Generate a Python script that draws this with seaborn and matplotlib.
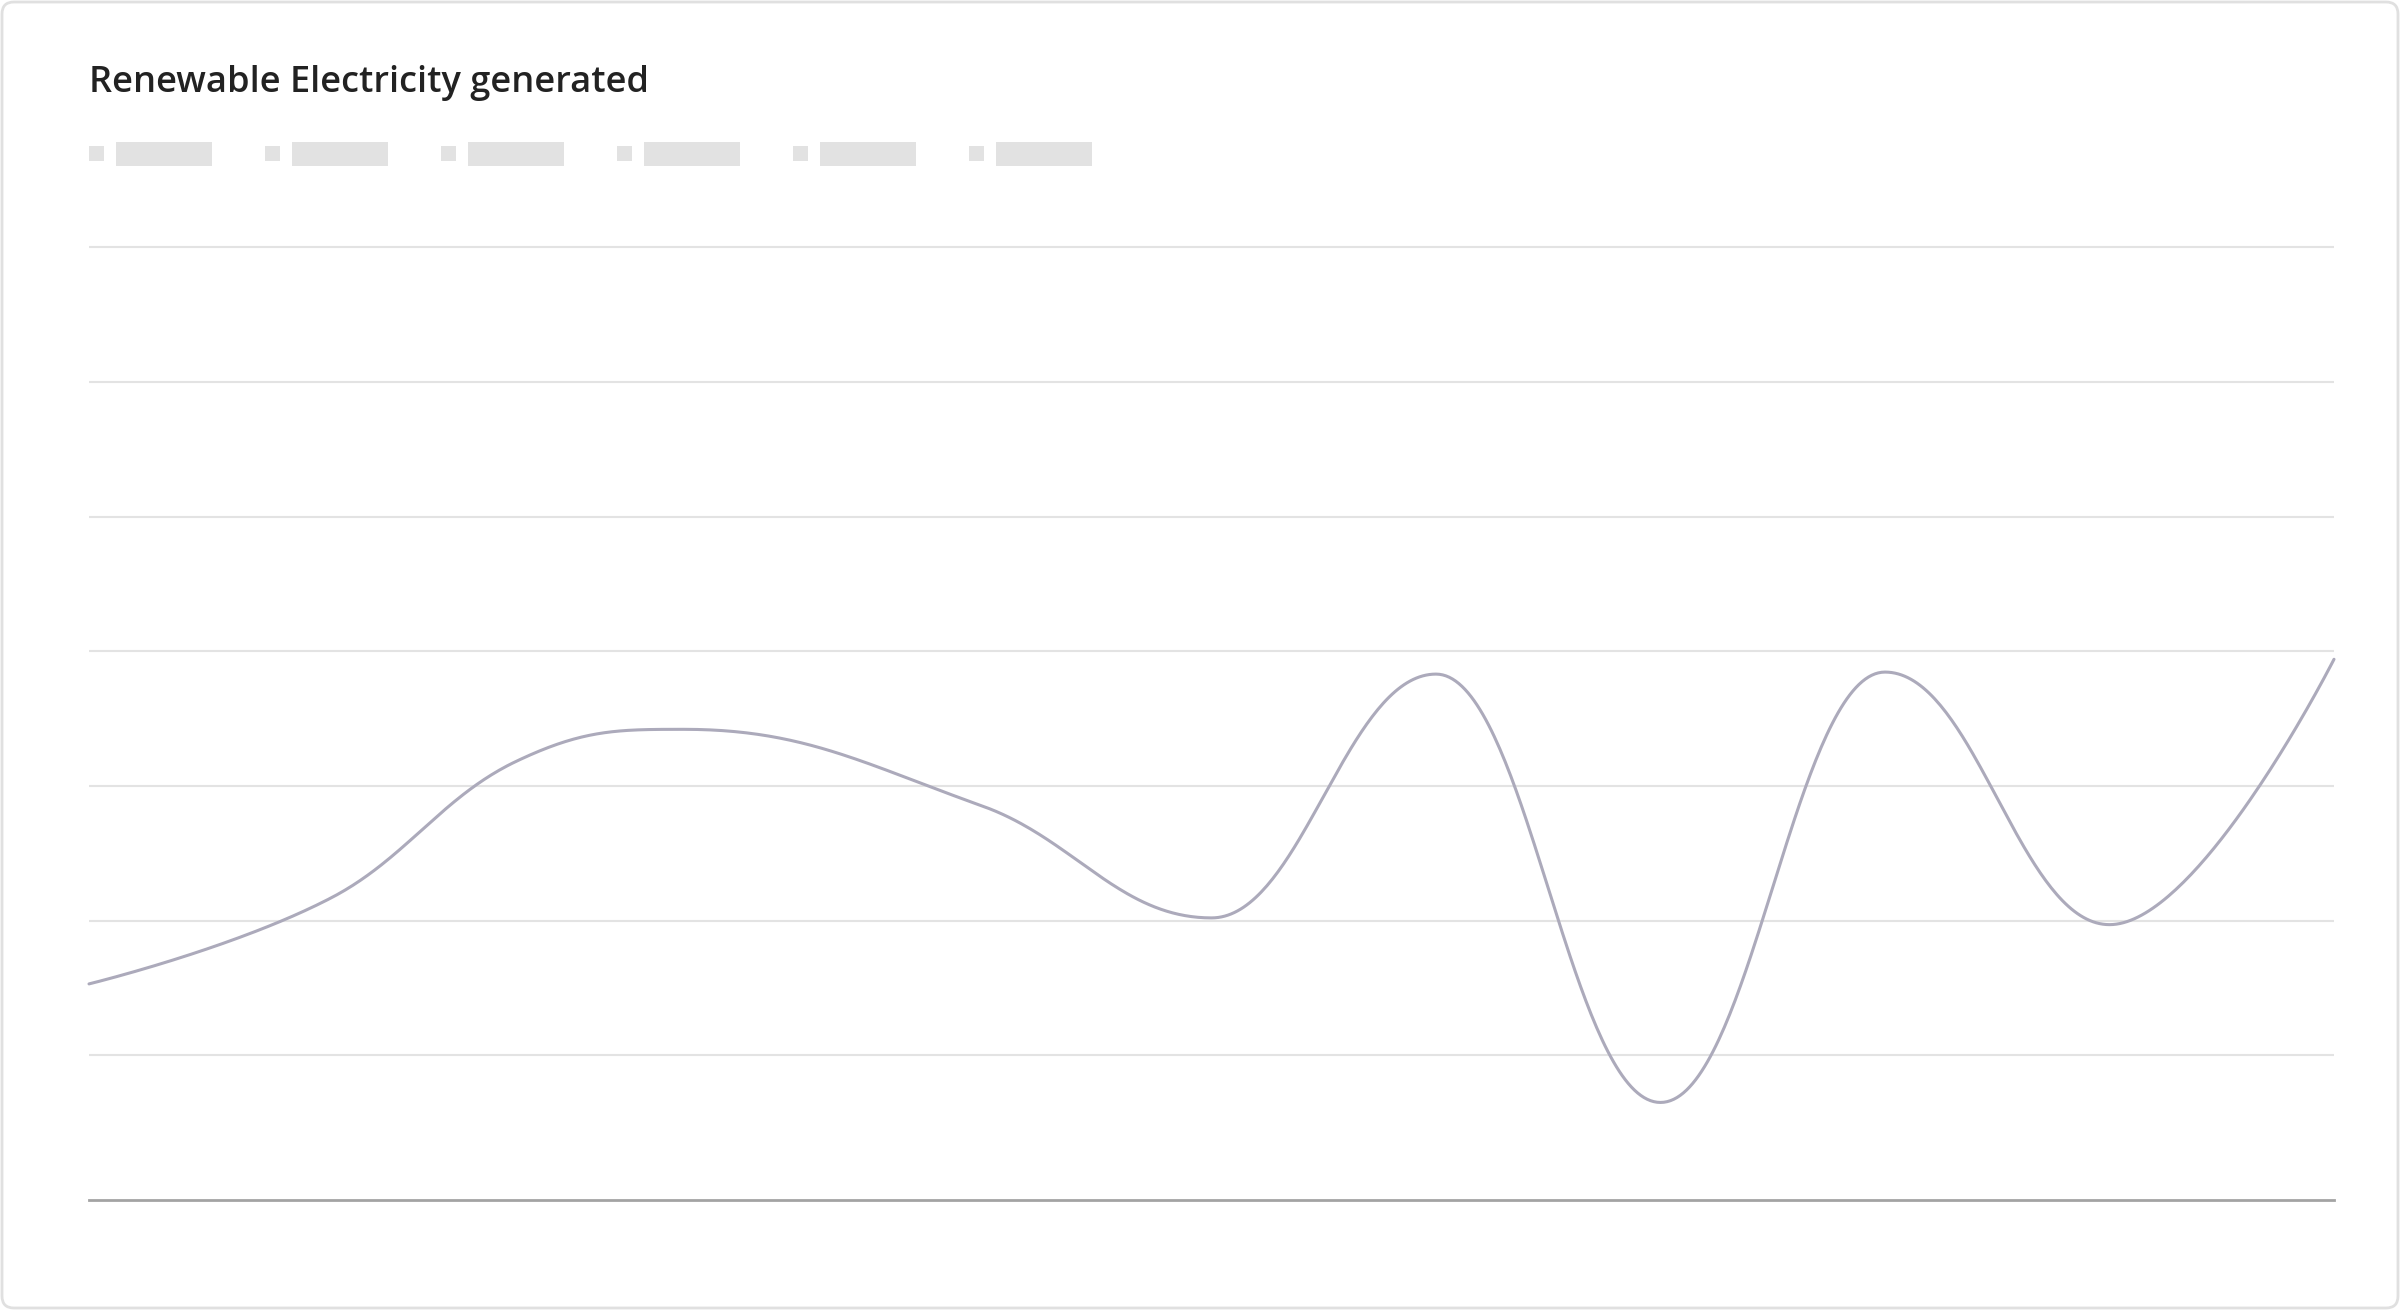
import numpy as np
import matplotlib
matplotlib.use("Agg")
import matplotlib.pyplot as plt
from matplotlib.patches import FancyBboxPatch, Rectangle
import seaborn as sns

sns.set_theme(style="white")
plt.rcParams['font.family'] = ['Open Sans', 'DejaVu Sans']

# data
title = "Renewable Electricity generated"
points = [0, 1.08, 1.9, 2.65, 3.98, 5, 6, 7, 8, 9, 10]
generated = [15.3, 21.7, 31.8, 34.2, 28.5, 20.2, 38.3, 6.5, 38.45, 19.7, 39.4]
grid_values = [10, 20, 30, 40, 50, 60, 70]
n_legend = 6

W, H = 2400, 1310
fig = plt.figure(figsize=(12, 6.55), dpi=200)
fig.patch.set_facecolor('white')

# background card, pixel coordinates
bg = fig.add_axes([0, 0, 1, 1])
bg.set_xlim(0, W)
bg.set_ylim(H, 0)
bg.axis('off')
bg.add_patch(FancyBboxPatch((2, 2), W - 4, H - 4,
                            boxstyle="round,pad=0,rounding_size=12",
                            fc='white', ec='#e0e0e0', lw=1.0))

# legend placeholders (grey skeleton boxes)
for i in range(n_legend):
    x0 = 89 + i * 176
    bg.add_patch(Rectangle((x0, 146), 15, 15, color='#e2e2e2', lw=0))
    bg.add_patch(Rectangle((x0 + 27, 142), 96, 24, color='#e2e2e2', lw=0))

# title, fitted to the reference width
t = bg.text(89, 92, title, ha='left', va='baseline', fontsize=20,
            fontweight='semibold', color='#222222')
fig.canvas.draw()
w = t.get_window_extent().width
t.set_fontsize(20 * 558 / w)

# chart area
px_unit = 13.47
y_lo, y_hi = -0.74, 70.5
top_px = 1190 - y_hi * px_unit
bot_px = 1190 - y_lo * px_unit
ax = fig.add_axes([89 / W, 1 - bot_px / H, (2334 - 89) / W, (bot_px - top_px) / H])
ax.set_xlim(points[0], points[-1])
ax.set_ylim(y_lo, y_hi)
ax.set_facecolor('none')
ax.set_yticks(grid_values)
ax.set_xticks([])
ax.yaxis.grid(True, color='#e3e3e3', lw=0.75)
ax.tick_params(left=False, labelleft=False, bottom=False, labelbottom=False)
for s in ['left', 'right', 'top']:
    ax.spines[s].set_visible(False)
ax.spines['bottom'].set_color('#a3a3a3')
ax.spines['bottom'].set_linewidth(1.0)

# spline: catmull-like tangents, flattened at local extremes
xs = np.array(points, dtype=float)
ys = np.array(generated, dtype=float)
n = len(xs)
sm, den = 1.5, 2.5
lcx, lcy = xs.copy(), ys.copy()
rcx, rcy = xs.copy(), ys.copy()
for i in range(1, n - 1):
    px, py = xs[i], ys[i]
    lx, ly = xs[i - 1], ys[i - 1]
    nx, ny = xs[i + 1], ys[i + 1]
    a_x, a_y = (sm * px + lx) / den, (sm * py + ly) / den
    b_x, b_y = (sm * px + nx) / den, (sm * py + ny) / den
    corr = (b_y - a_y) * (b_x - px) / (b_x - a_x) + py - b_y
    a_y += corr
    b_y += corr
    if a_y > ly and a_y > py:
        a_y = max(ly, py)
        b_y = 2 * py - a_y
    elif a_y < ly and a_y < py:
        a_y = min(ly, py)
        b_y = 2 * py - a_y
    if b_y > ny and b_y > py:
        b_y = max(ny, py)
        a_y = 2 * py - b_y
    elif b_y < ny and b_y < py:
        b_y = min(ny, py)
        a_y = 2 * py - b_y
    lcx[i], lcy[i], rcx[i], rcy[i] = a_x, a_y, b_x, b_y

tt = np.linspace(0, 1, 80)
cx, cy = [], []
for i in range(n - 1):
    bx = ((1 - tt) ** 3) * xs[i] + 3 * ((1 - tt) ** 2) * tt * rcx[i] \
        + 3 * (1 - tt) * tt ** 2 * lcx[i + 1] + tt ** 3 * xs[i + 1]
    by = ((1 - tt) ** 3) * ys[i] + 3 * ((1 - tt) ** 2) * tt * rcy[i] \
        + 3 * (1 - tt) * tt ** 2 * lcy[i + 1] + tt ** 3 * ys[i + 1]
    start = 0 if i == 0 else 1
    cx.extend(bx[start:])
    cy.extend(by[start:])

sns.lineplot(x=cx, y=cy, ax=ax, sort=False, estimator=None,
             color='#acaabb', lw=1.1, clip_on=False)

fig.savefig('out.png', dpi=200, facecolor='white')
